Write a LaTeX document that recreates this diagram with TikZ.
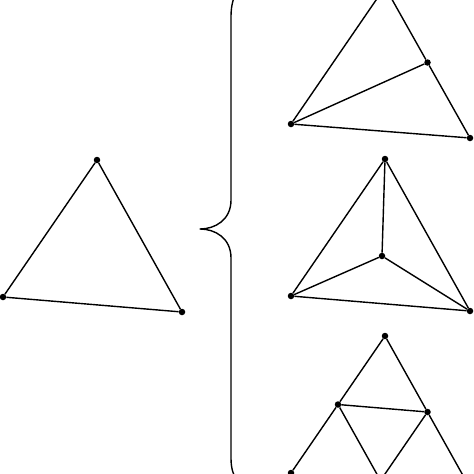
\documentclass[tikz,border=0pt]{standalone}
\begin{document}
\begin{tikzpicture}[x=1pt,y=-1pt,
  edge/.style={line width=1.4pt,line join=round},
  dot/.style={circle,fill=black,inner sep=0pt,minimum size=6.5pt}]
\useasboundingbox (0,0) rectangle (474,474);
\clip (0,0) rectangle (474,474);
% left triangle
\node[dot] (lt) at (97,160) {};
\node[dot] (ll) at (3,297) {};
\node[dot] (lr) at (182,312) {};
\draw[edge] (lt) -- (ll) -- (lr) -- (lt);
% brace
\coordinate (btop) at (236,-8);
\coordinate (bbot) at (237,482);
\coordinate (btip) at (200,229);
\draw[edge] (btop) .. controls (232,2) and (231,8) .. (231,18)
  -- (231,200) .. controls (231,220) and (215,229) .. (btip)
  .. controls (215,229) and (231,238) .. (231,258)
  -- (231,458) .. controls (231,468) and (233,474) .. (bbot);
% top right: edge bisection
\node[dot] (at) at (385,-13) {};
\node[dot] (al) at (291,124) {};
\node[dot] (ar) at (470,138) {};
\node[dot] (am) at (427.5,62.5) {};
\draw[edge] (at) -- (al) -- (ar) -- (am) -- (at);
\draw[edge] (al) -- (am);
% middle right: centroid
\node[dot] (bt) at (385,159) {};
\node[dot] (bl) at (291,296) {};
\node[dot] (br) at (470,311) {};
\node[dot] (bc) at (382,256) {};
\draw[edge] (bt) -- (bl) -- (br) -- (bt);
\draw[edge] (bt) -- (bc); \draw[edge] (bl) -- (bc); \draw[edge] (br) -- (bc);
% bottom right: midpoint subdivision
\node[dot] (ct) at (385,336) {};
\node[dot] (cl) at (291,473) {};
\node[dot] (cr) at (470,488) {};
\node[dot] (cml) at (338,404.5) {};
\node[dot] (cmr) at (427.5,412) {};
\node[dot] (cmb) at (380.5,480.5) {};
\draw[edge] (ct) -- (cml) -- (cl);
\draw[edge] (ct) -- (cmr) -- (cr);
\draw[edge] (cml) -- (cmr);
\draw[edge] (cml) -- (cmb) -- (cmr);
\end{tikzpicture}
\end{document}
